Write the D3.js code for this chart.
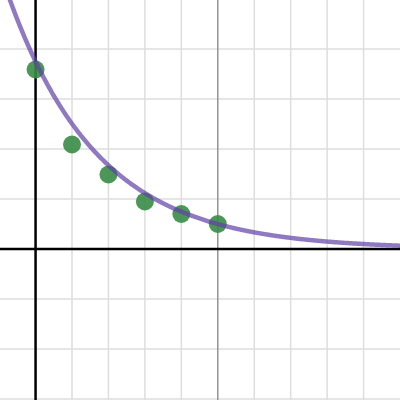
<!DOCTYPE html>
<html lang="en">
<head>
    <meta charset="UTF-8">
    <title>Exponential fit</title>
    <style>
        body { margin: 0; padding: 0; background: #fff; }
        svg { display: block; }
    </style>
    <script src="https://d3js.org/d3.v7.min.js"></script>
</head>
<body>
<svg id="chart" width="400" height="400"></svg>
<script>
    // data points
    const pointX = [0, 1, 2, 3, 4, 5];
    const pointY = [3.59, 2.09, 1.49, 0.95, 0.70, 0.50];

    // fitted model y = a * b^x
    const fitA = 3.75;
    const fitB = 0.668;

    // grid
    const gridX = d3.range(-1, 10);
    const gridY = d3.range(-3, 6);
    const majorX = [5];

    const width = 400, height = 400;
    const svg = d3.select('#chart');

    const x = d3.scaleLinear().domain([-0.976, 10.0]).range([0, width]);
    const y = d3.scaleLinear().domain([-3.02, 4.98]).range([height, 0]);

    // minor grid
    svg.append('g')
        .selectAll('line')
        .data(gridX.filter(d => d !== 0 && !majorX.includes(d)))
        .join('line')
        .attr('x1', d => x(d)).attr('x2', d => x(d))
        .attr('y1', 0).attr('y2', height)
        .attr('stroke', '#dedede').attr('stroke-width', 1.5);

    svg.append('g')
        .selectAll('line')
        .data(gridY.filter(d => d !== 0))
        .join('line')
        .attr('x1', 0).attr('x2', width)
        .attr('y1', d => y(d)).attr('y2', d => y(d))
        .attr('stroke', '#dedede').attr('stroke-width', 1.5);

    // major grid
    svg.append('g')
        .selectAll('line')
        .data(majorX)
        .join('line')
        .attr('x1', d => x(d)).attr('x2', d => x(d))
        .attr('y1', 0).attr('y2', height)
        .attr('stroke', '#939393').attr('stroke-width', 1.5);

    // axes
    svg.append('line')
        .attr('x1', x(0)).attr('x2', x(0))
        .attr('y1', 0).attr('y2', height)
        .attr('stroke', '#000').attr('stroke-width', 2.5);
    svg.append('line')
        .attr('x1', 0).attr('x2', width)
        .attr('y1', y(0)).attr('y2', y(0))
        .attr('stroke', '#000').attr('stroke-width', 2.5);

    // points
    svg.append('g')
        .selectAll('circle')
        .data(pointX.map((d, i) => [d, pointY[i]]))
        .join('circle')
        .attr('cx', d => x(d[0]))
        .attr('cy', d => y(d[1]))
        .attr('r', 9)
        .attr('fill', '#388c46')
        .attr('fill-opacity', 0.9);

    // fitted curve
    const curveX = d3.range(-1.2, 10.3, 0.02);
    const line = d3.line()
        .x(d => x(d))
        .y(d => y(fitA * Math.pow(fitB, d)));

    svg.append('path')
        .datum(curveX)
        .attr('d', line)
        .attr('fill', 'none')
        .attr('stroke', '#6042a6')
        .attr('stroke-opacity', 0.7)
        .attr('stroke-width', 4.5);
</script>
</body>
</html>
